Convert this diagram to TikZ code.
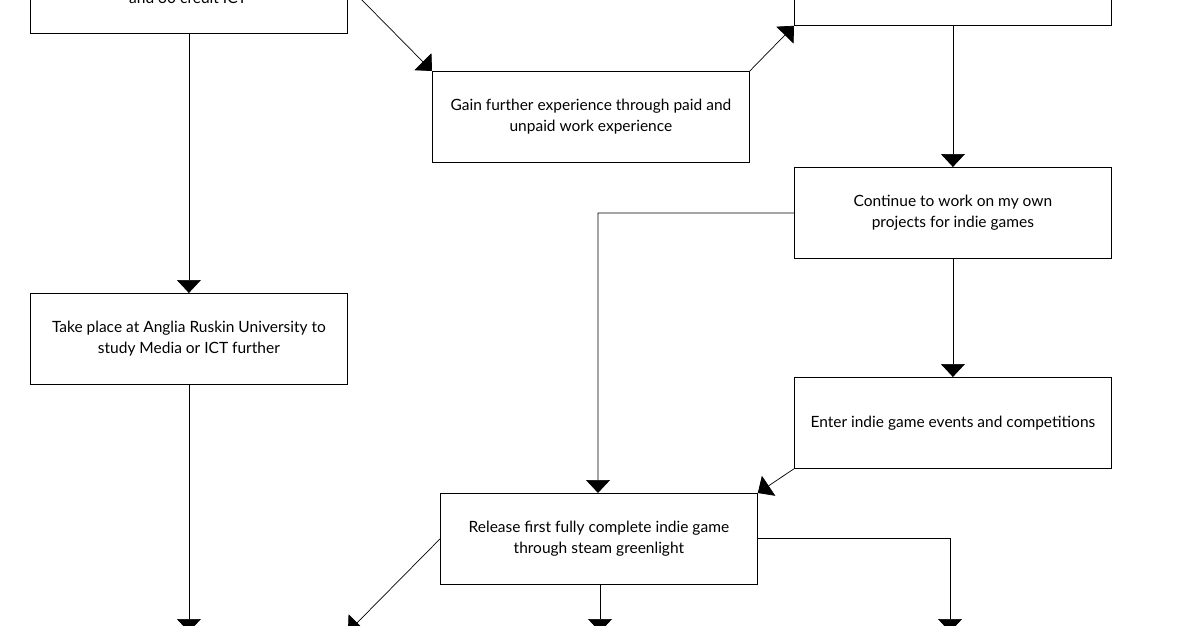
\documentclass[tikz,border=0pt]{standalone}
\usepackage{fontspec}
\setmainfont{Lato}
\usetikzlibrary{arrows.meta}
\begin{document}
\begin{tikzpicture}[x=1pt,y=-1pt,
  box/.style={draw,line width=0.8pt,minimum width=317pt,minimum height=91pt,anchor=north west,inner sep=0pt,align=center,font=\fontsize{15.5}{21}\selectfont},
  arr/.style={line width=0.7pt,-{Triangle[width=24pt,length=13pt]}}]
\useasboundingbox (0,0) rectangle (1191,626);
\clip (0,0) rectangle (1191,626);
\node[box] (A) at (30,-58) {};
\node[font=\fontsize{15.5}{21}\selectfont,anchor=base] (At) at (188,4) {and 30 credit ICT};
\node[box] (B) at (432,71) {Gain further experience through paid and\\unpaid work experience};
\node[box] (C) at (794,-66) {};
\node[box] (D) at (794,167) {Continue to work on my own\\projects for indie games};
\node[box] (E) at (30,293) {Take place at Anglia Ruskin University to\\study Media or ICT further};
\node[box] (F) at (794,377) {Enter indie game events and competitions};
\node[box] (G) at (440,493) {Release first fully complete indie game\\through steam greenlight};
\coordinate (e1) at (188,632);
\coordinate (g1) at (348,632);
\coordinate (g2) at (600,632);
\coordinate (g3) at (950,632);
\coordinate (g3b) at (950,538);
\coordinate (d1) at (598,213);
\draw[arr] (A.south) -- (E.north);
\draw[arr] (357,-5) -- (B.north west);
\draw[arr] (B.north east) -- (C.south west);
\draw[arr] (C.south) -- (D.north);
\draw[arr] (D.west) -- (d1) -- (d1 |- G.north);
\draw[arr] (D.south) -- (F.north);
\draw[arr] (F.south west) -- (G.north east);
\draw[arr] (E.south) -- (E.south |- e1);
\draw[arr] (G.west) -- (g1);
\draw[arr] (G.south -| g2) -- (g2);
\draw[arr] (G.east |- g3b) -- (g3b) -- (g3);
\end{tikzpicture}
\end{document}
